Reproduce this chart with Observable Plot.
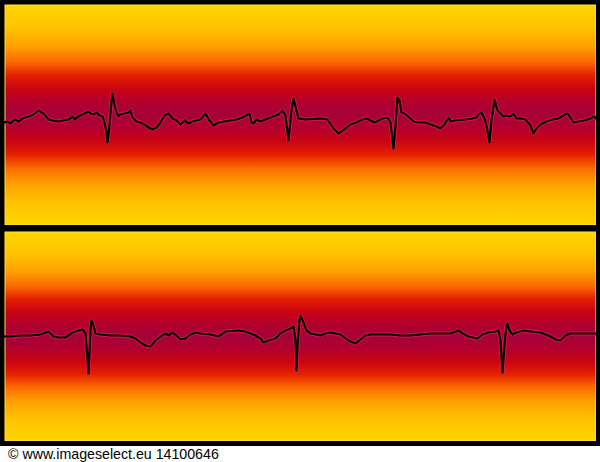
<!DOCTYPE html>
<html><head><meta charset="utf-8">
<script src="https://cdn.jsdelivr.net/npm/d3@7"></script>
<script src="https://cdn.jsdelivr.net/npm/@observablehq/plot@0.6"></script>
<style>
html,body{margin:0;padding:0;background:#fff;}
#stage{position:relative;width:600px;height:446px;background:#000;}
.panel{position:absolute;left:4px;}
#p1{top:4px}
#p2{top:231px}
#caption{font-family:"Liberation Sans",Arial,sans-serif;font-size:14.2px;color:#000;margin:0 0 0 8px;line-height:16px;}
</style></head>
<body>
<div id="stage"><div id="p1" class="panel"></div><div id="p2" class="panel"></div></div>
<div id="caption">© www.imageselect.eu 14100646</div>
<script>
// Trace 1 (upper strip): sample time and amplitude
const time1 = [4,7,10,14,18,22,28,33,38,43,48,52,58,63,68,72,74,78,82,86,88,90,93,96,99,102,104,106,107,109,111,112,114,116,118,120,124,128,130,132,136,140,144,148,152,156,160,164,168,172,176,180,184,188,192,196,200,205,209,213,218,224,230,236,242,249,251,253,256,260,265,270,278,282,285,288,291,293,296,298,305,320,327,333,338,345,350,356,362,366,370,374,378,382,387,390,393,395,397,399,401,404,410,413,418,425,430,436,440,444,448,450,455,465,472,476,478,481,484,486,489,491,494,497,500,503,505,510,513,516,520,525,530,533,536,540,546,552,558,566,568,573,578,584,590,593,596];
const amp1 = [-8,-7,-9,-5,-7,-4,-2,0,4,1,-5,-6,-7,-6,-5,-2,-5,-2,0,2,3,1,0,2,-1,-2,-8,-18,-28,-11,14,21,9,2,-2,0,1,2,4,-3,-7,-8,-10,-13,-15,-13,-8,-1,1,-4,-6,-10,-6,-9,-7,-6,-5,1,-6,-11,-8,-7,-6,-5,-3,1,-8,-9,-5,-7,-5,-3,0,4,-1,-26,4,16,4,-4,-5,-4,-5,-14,-19,-14,-10,-8,-5,-4,-6,-8,-6,-4,-3,-8,-34,-11,17,14,2,1,-4,-7,-8,-8,-10,-12,-14,-10,-3,-7,-6,-5,-4,-3,0,2,-4,-11,-28,-6,15,4,1,-2,-1,-2,1,-4,-4,-5,-11,-19,-14,-10,-7,-5,-4,1,0,-8,-7,-6,-4,-2,-4];

// Trace 2 (lower strip)
const time2 = [4,10,20,30,40,48,53,58,65,68,72,78,82,85,87,88,90,91,93,95,100,110,120,130,135,140,145,150,155,160,165,168,172,176,180,185,190,195,200,210,218,225,237,245,255,260,263,268,275,280,285,290,293,295,296,297,299,300,303,306,310,315,320,325,330,335,340,345,350,355,360,365,370,380,390,400,410,420,430,440,450,458,462,468,477,482,488,495,498,500,502,504,506,507,509,512,516,523,530,540,545,550,555,560,565,570,580,590,595];
const amp2 = [0,0,1,1,2,5,0,-1,-1,1,4,6,7,3,-22,-37,6,16,11,3,2,1,1,0,-2,-6,-9,-10,-4,0,3,1,4,1,-3,-2,2,4,3,2,0,5,6,5,1,-2,-6,-4,-2,3,6,8,10,-4,-34,-9,16,21,14,6,3,2,1,3,4,3,2,-2,-5,-7,-3,1,2,2,2,1,1,2,3,3,3,6,3,0,-2,2,4,5,6,-4,-36,-9,11,13,6,2,4,6,5,4,2,0,-3,-4,1,3,3,3,3];

const stopOffsets = [0, 0.1, 0.19, 0.26, 0.32, 0.38, 0.44, 0.5, 0.56, 0.62, 0.68, 0.74, 0.81, 0.9, 1];
const stopColors = ["#ffd400","#ffc400","#ffa000","#fb6800","#e42000","#ca0412","#b2002e","#a6003a","#b2002e","#ca0412","#e42000","#fb6800","#ffa000","#ffc400","#ffd400"];

function panel(sel, times, amps, height, yTop, gid) {
  const data = times.map((t, i) => ({t, v: amps[i]}));
  const svg = Plot.plot({
    width: 592, height, margin: 0,
    style: {background: "transparent"},
    x: {domain: [4, 596], axis: null},
    y: {domain: [yTop - height, yTop], axis: null},
    marks: [
      Plot.frame({fill: `url(#${gid})`, stroke: "#ffe24a", strokeWidth: 1, inset: 0.5}),
      Plot.line(data, {x: "t", y: "v", stroke: "#f01848", strokeWidth: 4, strokeOpacity: 0.75}),
      Plot.line(data, {x: "t", y: "v", stroke: "#000", strokeWidth: 2.2})
    ]
  });
  const g = d3.select(svg).insert("defs", ":first-child")
    .append("linearGradient").attr("id", gid)
    .attr("x1", 0).attr("y1", 0).attr("x2", 0).attr("y2", 1);
  stopOffsets.forEach((o, i) => g.append("stop").attr("offset", o).attr("stop-color", stopColors[i]));
  document.querySelector(sel).appendChild(svg);
}
panel("#p1", time1, amp1, 221, 110, "grad1");
panel("#p2", time2, amp2, 210, 105, "grad2");
</script>
</body></html>
